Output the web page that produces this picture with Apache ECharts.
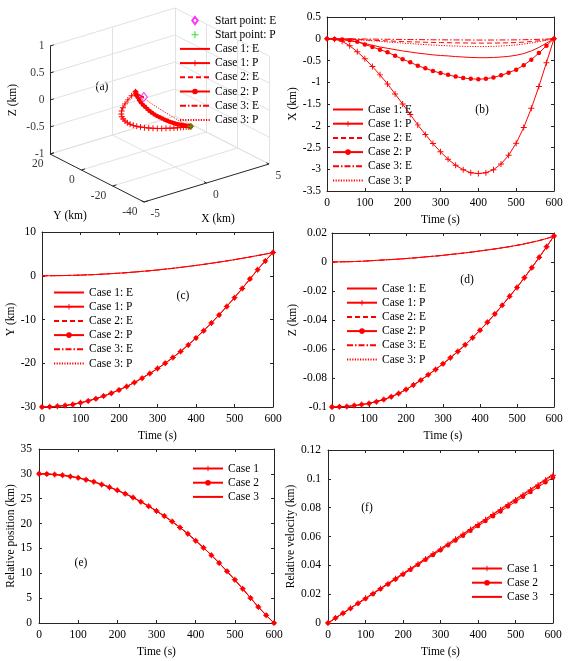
<!DOCTYPE html>
<html><head><meta charset="utf-8">
<script src="https://cdn.jsdelivr.net/npm/echarts@6/dist/echarts.min.js"></script>
<style>html,body{margin:0;padding:0;background:#fff}#c{width:571px;height:661px}</style>
</head><body><div id="c"></div>
<script>
// ---------------- data ----------------
const time = [0,20,40,60,80,100,120,140,160,180,200,220,240,260,280,300,320,340,360,380,400,420,440,460,480,500,520,540,560,580,600];
// X (km) per case, evader (E) and pursuer (P)
const xE1 = [0,-0.004,-0.02,-0.045,-0.075,-0.11,-0.15,-0.19,-0.22,-0.25,-0.28,-0.305,-0.33,-0.35,-0.37,-0.385,-0.395,-0.41,-0.42,-0.43,-0.435,-0.435,-0.43,-0.42,-0.405,-0.38,-0.34,-0.28,-0.2,-0.1,0];
const xP1 = [0,-0.01,-0.06,-0.16,-0.3,-0.46,-0.64,-0.83,-1.04,-1.27,-1.5,-1.74,-1.98,-2.2,-2.41,-2.6,-2.77,-2.91,-3.01,-3.08,-3.1,-3.08,-3.01,-2.88,-2.68,-2.4,-2.04,-1.6,-1.1,-0.55,0];
const xE2 = [0,-0.001,-0.005,-0.01,-0.017,-0.025,-0.034,-0.043,-0.05,-0.057,-0.064,-0.07,-0.075,-0.08,-0.085,-0.088,-0.091,-0.094,-0.097,-0.099,-0.1,-0.1,-0.099,-0.097,-0.093,-0.087,-0.078,-0.064,-0.046,-0.024,0];
const xP2 = [0,-0.003,-0.015,-0.035,-0.07,-0.13,-0.19,-0.25,-0.31,-0.39,-0.47,-0.54,-0.62,-0.68,-0.74,-0.79,-0.83,-0.87,-0.9,-0.92,-0.93,-0.92,-0.89,-0.84,-0.78,-0.71,-0.61,-0.48,-0.33,-0.16,0];
const xE3 = [0,0,-0.001,-0.002,-0.004,-0.006,-0.008,-0.01,-0.012,-0.014,-0.016,-0.018,-0.02,-0.022,-0.024,-0.025,-0.026,-0.027,-0.028,-0.029,-0.03,-0.03,-0.029,-0.028,-0.027,-0.025,-0.022,-0.018,-0.013,-0.007,0];
const xP3 = [0,-0.001,-0.005,-0.012,-0.022,-0.034,-0.047,-0.06,-0.073,-0.087,-0.1,-0.112,-0.124,-0.135,-0.145,-0.154,-0.162,-0.168,-0.174,-0.178,-0.18,-0.179,-0.175,-0.168,-0.157,-0.142,-0.122,-0.097,-0.068,-0.035,0];
// Y (km), Z (km): identical for all cases
const yE = [0,0.006,0.024,0.053,0.094,0.147,0.21,0.29,0.38,0.48,0.59,0.71,0.85,1.0,1.15,1.32,1.51,1.7,1.91,2.13,2.36,2.6,2.85,3.12,3.39,3.68,3.98,4.29,4.62,4.95,5.3];
const yP = [-30,-29.96,-29.85,-29.66,-29.4,-29.05,-28.6,-28.1,-27.5,-26.85,-26.1,-25.3,-24.4,-23.4,-22.35,-21.2,-20.0,-18.7,-17.3,-15.8,-14.2,-12.55,-10.8,-8.95,-7.0,-5.0,-2.9,-0.75,1.4,3.4,5.3];
const zE = [0,0.0001,0.0002,0.0003,0.0005,0.0008,0.0011,0.0014,0.0017,0.002,0.0024,0.0028,0.0032,0.0037,0.0041,0.0046,0.0052,0.0057,0.0063,0.0069,0.0076,0.0083,0.009,0.0098,0.0106,0.0115,0.0125,0.0136,0.0148,0.0162,0.0178];
const zP = [-0.1,-0.0999,-0.0996,-0.099,-0.0983,-0.0975,-0.0963,-0.0948,-0.093,-0.0907,-0.088,-0.0849,-0.0815,-0.0778,-0.0741,-0.0702,-0.0661,-0.0617,-0.0571,-0.0522,-0.047,-0.0416,-0.0359,-0.0299,-0.0237,-0.0175,-0.0108,-0.0039,0.0032,0.0105,0.018];
// relative position (km)
const relPos = [30,29.97,29.87,29.71,29.49,29.2,28.81,28.39,27.88,27.33,26.69,26.01,25.25,24.4,23.5,22.52,21.51,20.41,19.21,17.93,16.56,15.15,13.65,12.07,10.39,8.68,6.88,5.04,3.22,1.55,0];
// relative velocity
const relVel1 = [0,0.0034,0.0068,0.0103,0.0137,0.0171,0.0205,0.0239,0.0273,0.0307,0.0342,0.0376,0.041,0.0444,0.0478,0.0512,0.0547,0.0581,0.0615,0.0649,0.0683,0.0717,0.0752,0.0786,0.082,0.0854,0.0888,0.0922,0.0957,0.0991,0.1025];
const relVel2 = [0,0.0034,0.0067,0.0101,0.0135,0.0168,0.0202,0.0236,0.0269,0.0303,0.0337,0.037,0.0404,0.0438,0.0471,0.0505,0.0539,0.0572,0.0606,0.064,0.0673,0.0707,0.0741,0.0774,0.0808,0.0842,0.0875,0.0909,0.0943,0.0976,0.101];
const relVel3 = [0,0.0034,0.0069,0.0103,0.0138,0.0172,0.0206,0.0241,0.0275,0.031,0.0344,0.0378,0.0413,0.0447,0.0482,0.0516,0.055,0.0585,0.0619,0.0654,0.0688,0.0722,0.0757,0.0791,0.0826,0.086,0.0894,0.0929,0.0963,0.0998,0.1032];
// 3D axis ticks
const xTicks3 = [-5,0,5];
const yTicks3 = [-40,-20,0,20];
const zTicks3 = [-1,-0.5,0,0.5,1];
const caseNames = ['Case 1: E','Case 1: P','Case 2: E','Case 2: P','Case 3: E','Case 3: P'];
const caseNames2 = ['Case 1','Case 2','Case 3'];

// ---------------- styles ----------------
const FONT = 'Liberation Serif';
const FS = 11.5;
const RED = '#ff0000';
const AX = '#262626';
const GRIDC = '#e2e2e2';
const PLUS = 'path://M-0.16,-1L0.16,-1L0.16,-0.16L1,-0.16L1,0.16L0.16,0.16L0.16,1L-0.16,1L-0.16,0.16L-1,0.16L-1,-0.16L-0.16,-0.16Z';
const DIAMOND = 'path://M0,-1L0.78,0L0,1L-0.78,0Z';
const ST = {
  'Case 1: E': {symbol:'none', type:'solid'},
  'Case 1: P': {symbol:PLUS, size:6, type:'solid'},
  'Case 2: E': {symbol:'none', type:[5,3]},
  'Case 2: P': {symbol:'circle', size:4.5, type:'solid'},
  'Case 3: E': {symbol:'none', type:[6,2,1.5,2]},
  'Case 3: P': {symbol:'none', type:[1.2,1.4]},
  'Case 1': {symbol:PLUS, size:6, type:'solid'},
  'Case 2': {symbol:'circle', size:4.5, type:'solid'},
  'Case 3': {symbol:'none', type:'solid'}
};
function lineSer(name, xi, yi, data, z) {
  const st = ST[name];
  return {type:'line', name, xAxisIndex:xi, yAxisIndex:yi, data,
    symbol: st.symbol, symbolSize: st.size || 1, showSymbol: st.symbol !== 'none', showAllSymbol: true,
    lineStyle:{color:RED, width:1, type:st.type}, itemStyle:{color:RED},
    emphasis:{disabled:true}, silent:true, clip:false, z: z || 3, animation:false};
}
const pairs = (xs, ys) => xs.map((x, i) => [x, ys[i]]);

// ---------------- layout ----------------
const grids = [], xAxes = [], yAxes = [], series = [];
// panel (a): pixel-space grid for a projected 3D view
grids.push({left:0, top:0, width:290, height:230, show:false});
xAxes.push({gridIndex:0, type:'value', min:0, max:290, show:false});
yAxes.push({gridIndex:0, type:'value', min:0, max:230, inverse:true, show:false});
const X3 = [xTicks3[0], xTicks3[xTicks3.length-1]];
const Y3 = [yTicks3[0], yTicks3[yTicks3.length-1]];
const Z3 = [zTicks3[0], zTicks3[zTicks3.length-1]];
const P0 = [144, 202], EX = [125, -38], EY = [-94, -48], EZ = [0, -108];
function proj3(x, y, z) {
  const fx = (x - X3[0]) / (X3[1] - X3[0]);
  const fy = (y - Y3[0]) / (Y3[1] - Y3[0]);
  const fz = (z - Z3[0]) / (Z3[1] - Z3[0]);
  return [P0[0] + fx*EX[0] + fy*EY[0] + fz*EZ[0], P0[1] + fx*EX[1] + fy*EY[1] + fz*EZ[1]];
}
const seg = (a, b) => ({coords:[proj3(...a), proj3(...b)]});
const gridSegs = [];
xTicks3.forEach(xt => { if (xt !== X3[0]) gridSegs.push(seg([xt,Y3[1],Z3[0]],[xt,Y3[1],Z3[1]])); });
zTicks3.forEach(zt => gridSegs.push(seg([X3[0],Y3[1],zt],[X3[1],Y3[1],zt])));
yTicks3.forEach(yt => gridSegs.push(seg([X3[1],yt,Z3[0]],[X3[1],yt,Z3[1]])));
zTicks3.forEach(zt => gridSegs.push(seg([X3[1],Y3[0],zt],[X3[1],Y3[1],zt])));
xTicks3.forEach(xt => { if (xt !== X3[0]) gridSegs.push(seg([xt,Y3[0],Z3[0]],[xt,Y3[1],Z3[0]])); });
yTicks3.forEach(yt => { if (yt !== Y3[0]) gridSegs.push(seg([X3[0],yt,Z3[0]],[X3[1],yt,Z3[0]])); });
const axisSegs = [
  seg([X3[0],Y3[1],Z3[0]],[X3[0],Y3[1],Z3[1]]),
  seg([X3[0],Y3[0],Z3[0]],[X3[0],Y3[1],Z3[0]]),
  seg([X3[0],Y3[0],Z3[0]],[X3[1],Y3[0],Z3[0]])
];
zTicks3.forEach(zt => axisSegs.push(seg([X3[0],Y3[1],zt],[X3[0]+0.3,Y3[1],zt])));
yTicks3.forEach(yt => axisSegs.push(seg([X3[0],yt,Z3[0]],[X3[0]+0.3,yt,Z3[0]])));
xTicks3.forEach(xt => axisSegs.push(seg([xt,Y3[0],Z3[0]],[xt,Y3[0]+1.6,Z3[0]])));
series.push({type:'lines', coordinateSystem:'cartesian2d', xAxisIndex:0, yAxisIndex:0, polyline:false, silent:true, z:1,
  lineStyle:{color:GRIDC, width:1, opacity:1}, data:gridSegs, animation:false});
series.push({type:'lines', coordinateSystem:'cartesian2d', xAxisIndex:0, yAxisIndex:0, polyline:false, silent:true, z:2,
  lineStyle:{color:AX, width:1, opacity:1}, data:axisSegs, animation:false});
const lblStyle = {show:true, formatter:'{b}', color:'#000', fontFamily:FONT, fontSize:FS};
function tickLabels(data, label) {
  return {type:'scatter', xAxisIndex:0, yAxisIndex:0, symbolSize:1, itemStyle:{color:'rgba(0,0,0,0)'}, silent:true,
    label:Object.assign({}, lblStyle, label), data, animation:false, z:2};
}
series.push(tickLabels(zTicks3.map(z => ({name:String(z), value:proj3(X3[0],Y3[1],z)})), {position:'left', distance:5}));
series.push(tickLabels(yTicks3.map(y => ({name:String(y), value:proj3(X3[0],y,Z3[0])})), {position:'left', distance:6, offset:[0,10]}));
series.push(tickLabels(xTicks3.map(x => ({name:String(x), value:proj3(x,Y3[0],Z3[0])})), {position:'right', distance:6, offset:[0,12]}));
const traj = (xs, ys, zs) => xs.map((x, i) => proj3(x, ys[i], zs[i]));
const xSets = [xE1, xP1, xE2, xP2, xE3, xP3];
caseNames.forEach((n, k) => {
  const isP = k % 2 === 1;
  series.push(lineSer(n, 0, 0, traj(xSets[k], isP ? yP : yE, isP ? zP : zE), 3));
});
series.push({type:'scatter', name:'Start point: E', xAxisIndex:0, yAxisIndex:0, symbol:DIAMOND, symbolSize:[7,9],
  itemStyle:{color:'rgba(255,255,255,0)', borderColor:'#ff00ff', borderWidth:1}, data:[proj3(xE1[0], yE[0], zE[0])], z:5, silent:true, animation:false});
series.push({type:'scatter', name:'Start point: P', xAxisIndex:0, yAxisIndex:0, symbol:PLUS, symbolSize:7,
  itemStyle:{color:'#00dd00'}, data:[proj3(xP1[0], yP[0], zP[0])], z:5, silent:true, animation:false});

function addPanel(rect, yMin, yMax, yInt, yName, yNameGap, yLabelMargin) {
  const g = grids.length;
  grids.push({left:rect[0], top:rect[1], width:rect[2], height:rect[3], show:false});
  const axisLine = {show:true, onZero:false, lineStyle:{color:AX, width:1}};
  const tick = {show:true, inside:true, length:3, lineStyle:{color:AX, width:1}};
  const lab = {color:'#000', fontFamily:FONT, fontSize:FS};
  const xi = xAxes.length;
  xAxes.push({gridIndex:g, type:'value', min:0, max:600, interval:100, position:'bottom', axisLine, axisTick:tick,
    axisLabel:Object.assign({margin:6}, lab), splitLine:{show:false},
    name:'Time (s)', nameLocation:'middle', nameGap:23, nameTextStyle:lab});
  xAxes.push({gridIndex:g, type:'value', min:0, max:600, interval:100, position:'top', axisLine, axisTick:tick,
    axisLabel:{show:false}, splitLine:{show:false}});
  const yi = yAxes.length;
  yAxes.push({gridIndex:g, type:'value', min:yMin, max:yMax, interval:yInt, position:'left', axisLine, axisTick:tick,
    axisLabel:Object.assign({margin:yLabelMargin}, lab), splitLine:{show:false},
    name:yName, nameLocation:'middle', nameGap:yNameGap, nameTextStyle:lab});
  yAxes.push({gridIndex:g, type:'value', min:yMin, max:yMax, interval:yInt, position:'right', axisLine, axisTick:tick,
    axisLabel:{show:false}, splitLine:{show:false}});
  return {xi, yi};
}
const pb = addPanel([327,17,227,174], -3.5, 0.5, 0.5, 'X (km)', 26, 6);
const pc = addPanel([42,232,231,175], -30, 10, 10, 'Y (km)', 24, 6);
const pd = addPanel([332,233,222,174], -0.1, 0.02, 0.02, 'Z (km)', 31, 5);
const pe = addPanel([39,449,235,174], 0, 35, 5, 'Relative position (km)', 21, 7);
const pf = addPanel([328,450,225,173], 0, 0.12, 0.02, 'Relative velocity (km)', 27, 7);

caseNames.forEach((n, k) => series.push(lineSer(n, pb.xi, pb.yi, pairs(time, xSets[k]))));
caseNames.forEach((n, k) => series.push(lineSer(n, pc.xi, pc.yi, pairs(time, k % 2 ? yP : yE))));
caseNames.forEach((n, k) => series.push(lineSer(n, pd.xi, pd.yi, pairs(time, k % 2 ? zP : zE))));
caseNames2.forEach(n => series.push(lineSer(n, pe.xi, pe.yi, pairs(time, relPos))));
[relVel1, relVel2, relVel3].forEach((v, k) => series.push(lineSer(caseNames2[k], pf.xi, pf.yi, pairs(time, v))));

function legendData(names) {
  return names.map(n => (ST[n] && ST[n].symbol === 'none') ? {name:n, itemStyle:{opacity:0}} : {name:n});
}
function legend(left, top, names) {
  return {orient:'vertical', left, top, padding:0, itemWidth:30, itemHeight:7, itemGap:2.2, selectedMode:false,
    symbolKeepAspect:true,
    textStyle:{fontFamily:FONT, fontSize:FS, color:'#000'}, data:legendData(names)};
}
const legends = [
  legend(179, 14.5, ['Start point: E','Start point: P'].concat(caseNames)),
  legend(332, 103.5, caseNames),
  legend(53, 286.5, caseNames),
  legend(346, 282.5, caseNames),
  legend(192, 462.5, caseNames2),
  legend(471, 562.5, caseNames2)
];
const txt = (x, y, t, rot) => ({type:'text', x, y, rotation: rot || 0, silent:true,
  style:{text:t, fill:'#000', font:FS + 'px "' + FONT + '"', align:'center', verticalAlign:'middle'}});
const graphic = [
  txt(102, 87, '(a)'), txt(482, 110, '(b)'), txt(183, 296, '(c)'), txt(467, 280, '(d)'), txt(81, 563, '(e)'), txt(367, 508, '(f)'),
  txt(13, 100, 'Z (km)', Math.PI/2), txt(70, 216, 'Y (km)'), txt(218, 219, 'X (km)')
];

const chart = echarts.init(document.getElementById('c'), null, {renderer:'canvas', width:571, height:661});
chart.setOption({
  animation:false, backgroundColor:'#fff',
  textStyle:{fontFamily:FONT},
  grid:grids, xAxis:xAxes, yAxis:yAxes, legend:legends, graphic, series
});
</script></body></html>
